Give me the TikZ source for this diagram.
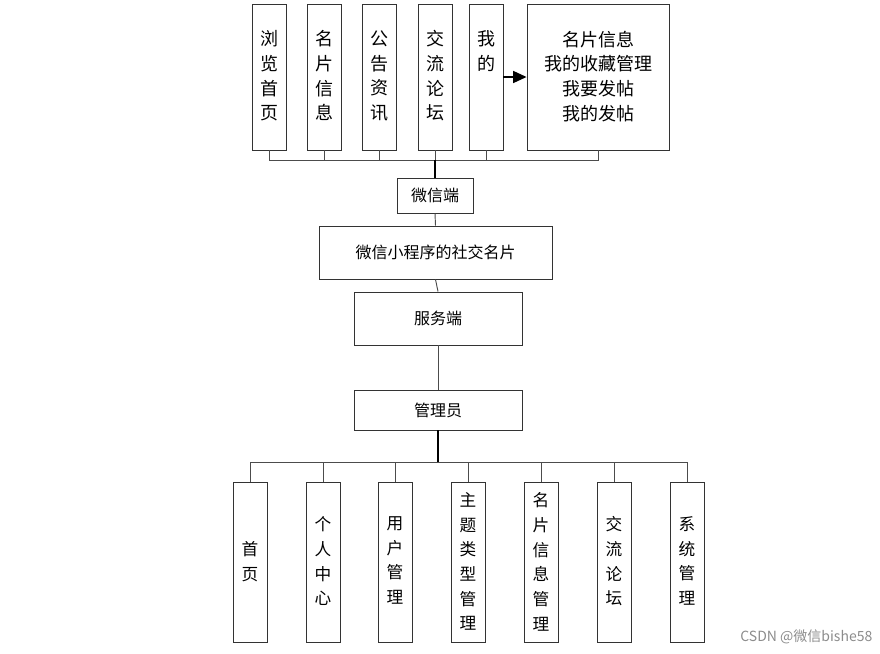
\documentclass[tikz,border=0pt]{standalone}
\usepackage{fontspec}
\setmainfont{Noto Sans CJK SC}
\usetikzlibrary{arrows.meta}
\begin{document}
\begin{tikzpicture}[x=0.75pt,y=-0.75pt,
  bx/.style={draw=black!80,line width=0.7pt,fill=white,inner sep=0pt},
  ln/.style={draw=black!70,line width=0.7pt},
  tl/.style={font=\fontsize{13.5}{18.5}\selectfont,align=center},
  ml/.style={font=\fontsize{12}{14}\selectfont}]
\useasboundingbox (0,0) rectangle (880,653);
\def\tb#1#2#3{\node[bx,minimum width=34*0.75pt,minimum height=146*0.75pt] (#1) at (#2,77) {};
  \node[tl,anchor=north] at (#2,26) {#3};}
\tb{t1}{269}{浏\\览\\首\\页}
\tb{t2}{324}{名\\片\\信\\息}
\tb{t3}{379}{公\\告\\资\\讯}
\tb{t4}{435}{交\\流\\论\\坛}
\tb{t5}{486}{我\\的}
\node[bx,minimum width=142*0.75pt,minimum height=146*0.75pt] (t6) at (598,77) {};
\node[tl,anchor=north] at (598,26) {名片信息\\我的收藏管理\\我要发帖\\我的发帖};
\draw[-{Triangle[length=10pt,width=9pt]},line width=1pt] (t5.east|-0,77) -- (t6.west|-0,77);
\coordinate (bt) at (435,160);
\foreach \n in {t1,t2,t3,t4,t5,t6} \draw[ln] (\n.south) |- (bt);
\node[bx,minimum width=76*0.75pt,minimum height=35*0.75pt,ml] (wx) at (435,195.5) {微信端};
\draw[line width=1.2pt] (bt) -- (wx.north);
\node[bx,minimum width=233*0.75pt,minimum height=53*0.75pt,ml] (app) at (435.5,252.5) {微信小程序的社交名片};
\node[bx,minimum width=168*0.75pt,minimum height=53*0.75pt,ml] (srv) at (438,318.5) {服务端};
\node[bx,minimum width=168*0.75pt,minimum height=40*0.75pt,ml] (adm) at (438,410) {管理员};
\draw[ln] (wx.south) -- (app.north);
\draw[ln] (app.south) -- (srv.north);
\draw[ln] (srv.south) -- (adm.north);
\coordinate (bb) at (438,462);
\draw[line width=1.2pt] (adm.south) -- (bb);
\foreach \n/\x/\t/\y in {b1/250/{首\\页}/537,b2/323/{个\\人\\中\\心}/512,b3/395/{用\\户\\管\\理}/512,b4/468/{主\\题\\类\\型\\管\\理}/488,b5/541/{名\\片\\信\\息\\管\\理}/488,b6/614/{交\\流\\论\\坛}/512,b7/687/{系\\统\\管\\理}/512}{
  \node[bx,minimum width=34*0.75pt,minimum height=160*0.75pt] (\n) at (\x,562) {};
  \node[tl,anchor=north,font=\fontsize{12.5}{18.5}\selectfont] at (\x,\y) {\t};
  \draw[ln] (\n.north) |- (bb);}
\node[anchor=east,text=black!45,font=\fontsize{10.5}{12}\selectfont] (wm) at (877,637) {CSDN @微信bishe58};
\end{tikzpicture}
\end{document}
